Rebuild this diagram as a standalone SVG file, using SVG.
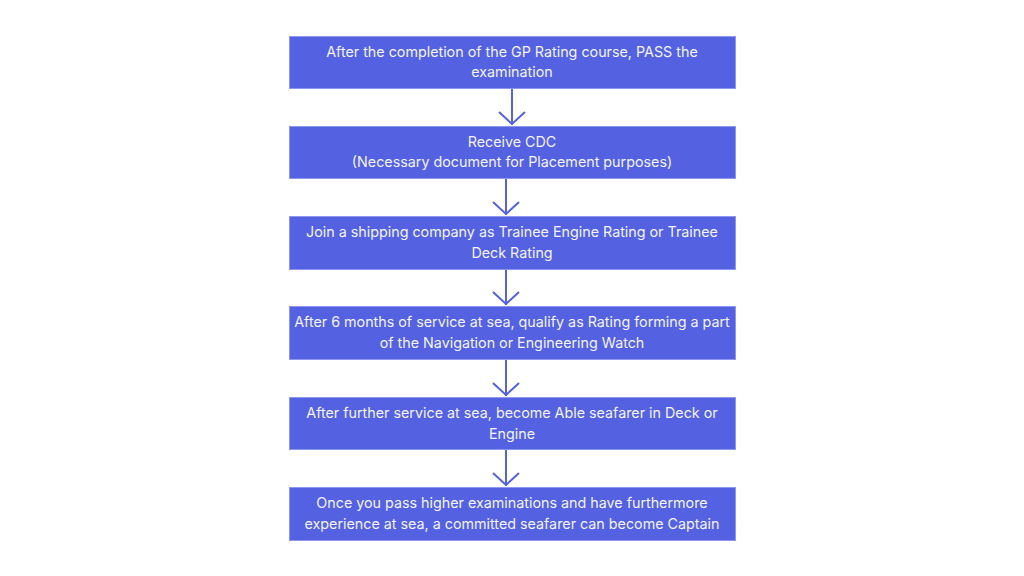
<svg xmlns="http://www.w3.org/2000/svg" width="1024" height="576" viewBox="0 0 1024 576">
<style>
.box{fill:#5461E0;stroke:#8E97F0;stroke-width:1}
.t{font-family:Inter,"Liberation Sans",sans-serif;font-size:14.3px;fill:#F2F3FF;text-anchor:middle}
.c{stroke:#5461E0;stroke-width:2;fill:none}
</style>
<rect width="1024" height="576" fill="#ffffff"/>
<g id="connectors">
<path class="c" d="M512 89V125M499 112L512 124L525 112"/>
<path class="c" d="M506 179V215M493 202L506 214L519 202"/>
<path class="c" d="M506 270V305M493 292L506 304L519 292"/>
<path class="c" d="M506 360V396M493 383L506 395L519 383"/>
<path class="c" d="M506 450V486M493 473L506 485L519 473"/>
</g>
<g id="n1"><rect class="box" x="289.5" y="36.5" width="446" height="52"/>
<text class="t" x="512" y="57">After the completion of the GP Rating course, PASS the</text>
<text class="t" x="512" y="77">examination</text></g>
<g id="n2"><rect class="box" x="289.5" y="126.5" width="446" height="52"/>
<text class="t" x="512" y="147">Receive CDC</text>
<text class="t" x="512" y="167">(Necessary document for Placement purposes)</text></g>
<g id="n3"><rect class="box" x="289.5" y="216.5" width="446" height="53"/>
<text class="t" x="512" y="237">Join a shipping company as Trainee Engine Rating or Trainee</text>
<text class="t" x="512" y="258">Deck Rating</text></g>
<g id="n4"><rect class="box" x="289.5" y="306.5" width="446" height="53"/>
<text class="t" x="512" y="327">After 6 months of service at sea, qualify as Rating forming a part</text>
<text class="t" x="512" y="348">of the Navigation or Engineering Watch</text></g>
<g id="n5"><rect class="box" x="289.5" y="397.5" width="446" height="52"/>
<text class="t" x="512" y="418">After further service at sea, become Able seafarer in Deck or</text>
<text class="t" x="512" y="439">Engine</text></g>
<g id="n6"><rect class="box" x="289.5" y="487.5" width="446" height="53"/>
<text class="t" x="512" y="508">Once you pass higher examinations and have furthermore</text>
<text class="t" x="512" y="529">experience at sea, a committed seafarer can become Captain</text></g>
</svg>
